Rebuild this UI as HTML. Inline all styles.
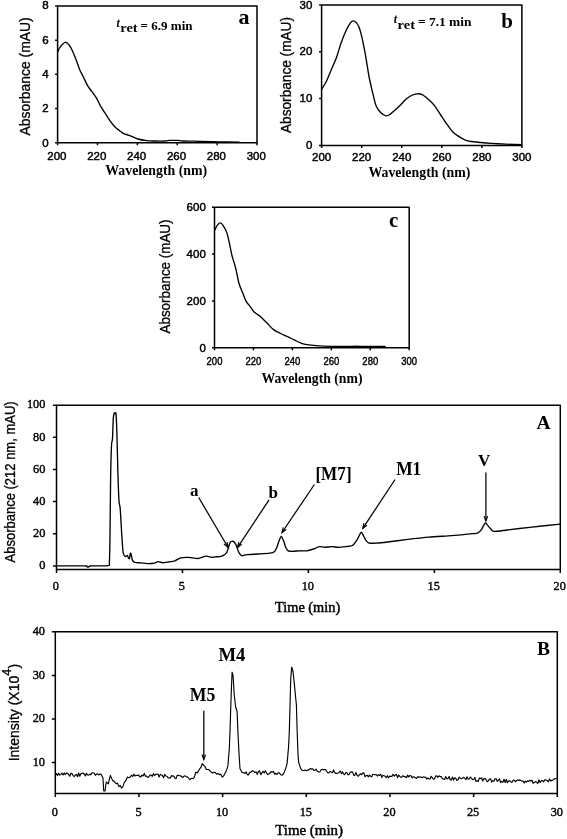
<!DOCTYPE html>
<html><head><meta charset="utf-8"><title>Figure</title>
<style>html,body{margin:0;padding:0;background:#fff;}svg{display:block;}</style>
</head><body>
<svg width="567" height="839" viewBox="0 0 567 839">
<rect width="567" height="839" fill="#fff"/>
<path d="M57.6,6.0 H257.0 V142.7 H57.6 Z" fill="none" stroke="#000" stroke-width="1.5" stroke-linejoin="round"/>
<path d="M55.10,142.70 H57.60 M55.10,108.52 H57.60 M55.10,74.35 H57.60 M55.10,40.17 H57.60 M55.10,6.00 H57.60" stroke="#000" stroke-width="1.5" fill="none"/>
<path d="M57.60,142.70 V145.20 M97.48,142.70 V145.20 M137.36,142.70 V145.20 M177.24,142.70 V145.20 M217.12,142.70 V145.20 M257.00,142.70 V145.20" stroke="#000" stroke-width="1.5" fill="none"/>
<text x="48.60" y="146.50" font-family="'Liberation Sans', Arial, sans-serif" font-size="11.5" font-weight="normal" font-style="normal" text-anchor="end" stroke="#000" stroke-width="0.45">0</text>
<text x="48.60" y="112.32" font-family="'Liberation Sans', Arial, sans-serif" font-size="11.5" font-weight="normal" font-style="normal" text-anchor="end" stroke="#000" stroke-width="0.45">2</text>
<text x="48.60" y="78.15" font-family="'Liberation Sans', Arial, sans-serif" font-size="11.5" font-weight="normal" font-style="normal" text-anchor="end" stroke="#000" stroke-width="0.45">4</text>
<text x="48.60" y="43.97" font-family="'Liberation Sans', Arial, sans-serif" font-size="11.5" font-weight="normal" font-style="normal" text-anchor="end" stroke="#000" stroke-width="0.45">6</text>
<text x="48.60" y="8.60" font-family="'Liberation Sans', Arial, sans-serif" font-size="11.5" font-weight="normal" font-style="normal" text-anchor="end" stroke="#000" stroke-width="0.45">8</text>
<text x="56.90" y="159.50" font-family="'Liberation Sans', Arial, sans-serif" font-size="11.5" font-weight="normal" font-style="normal" text-anchor="middle" stroke="#000" stroke-width="0.45">200</text>
<text x="96.78" y="159.50" font-family="'Liberation Sans', Arial, sans-serif" font-size="11.5" font-weight="normal" font-style="normal" text-anchor="middle" stroke="#000" stroke-width="0.45">220</text>
<text x="136.66" y="159.50" font-family="'Liberation Sans', Arial, sans-serif" font-size="11.5" font-weight="normal" font-style="normal" text-anchor="middle" stroke="#000" stroke-width="0.45">240</text>
<text x="176.54" y="159.50" font-family="'Liberation Sans', Arial, sans-serif" font-size="11.5" font-weight="normal" font-style="normal" text-anchor="middle" stroke="#000" stroke-width="0.45">260</text>
<text x="216.42" y="159.50" font-family="'Liberation Sans', Arial, sans-serif" font-size="11.5" font-weight="normal" font-style="normal" text-anchor="middle" stroke="#000" stroke-width="0.45">280</text>
<text x="256.30" y="159.50" font-family="'Liberation Sans', Arial, sans-serif" font-size="11.5" font-weight="normal" font-style="normal" text-anchor="middle" stroke="#000" stroke-width="0.45">300</text>
<text transform="translate(30.20,76.40) rotate(-90)" x="0" y="0" font-family="'Liberation Sans', Arial, sans-serif" font-size="14" font-weight="normal" text-anchor="middle" textLength="118" lengthAdjust="spacingAndGlyphs" stroke="#000" stroke-width="0.3">Absorbance (mAU)</text>
<text x="156.20" y="175.10" font-family="'Liberation Serif', 'Times New Roman', serif" font-size="15.5" font-weight="bold" font-style="normal" text-anchor="middle" textLength="102" lengthAdjust="spacingAndGlyphs">Wavelength (nm)</text>
<text x="238.50" y="24.00" font-family="'Liberation Serif', 'Times New Roman', serif" font-size="22" font-weight="bold" font-style="normal" text-anchor="start">a</text>
<text x="116.50" y="26.60" font-family="'Liberation Serif', 'Times New Roman', serif" font-size="12" font-weight="bold" font-style="italic" text-anchor="start">t</text>
<text x="120.30" y="31.50" font-family="'Liberation Serif', 'Times New Roman', serif" font-size="13.5" font-weight="bold" font-style="normal" text-anchor="start" textLength="17.4" lengthAdjust="spacingAndGlyphs">ret</text>
<text x="140.60" y="29.60" font-family="'Liberation Serif', 'Times New Roman', serif" font-size="12.8" font-weight="bold" font-style="normal" text-anchor="start" textLength="52" lengthAdjust="spacingAndGlyphs">= 6.9 min</text>
<path d="M57.60,52.00 C58.05,51.13 59.03,48.42 60.30,46.80 C61.57,45.18 63.73,42.60 65.20,42.30 C66.67,42.00 67.87,43.52 69.10,45.00 C70.33,46.48 71.42,48.70 72.60,51.20 C73.78,53.70 75.02,56.92 76.20,60.00 C77.38,63.08 78.53,66.92 79.70,69.70 C80.87,72.48 81.88,74.05 83.20,76.70 C84.52,79.35 86.13,83.10 87.60,85.60 C89.07,88.10 90.53,89.65 92.00,91.70 C93.47,93.75 94.92,95.40 96.40,97.90 C97.88,100.40 99.28,103.90 100.90,106.70 C102.52,109.50 104.48,112.20 106.10,114.70 C107.72,117.20 109.12,119.65 110.60,121.70 C112.08,123.75 113.53,125.53 115.00,127.00 C116.47,128.47 117.93,129.38 119.40,130.50 C120.87,131.62 122.18,132.90 123.80,133.70 C125.42,134.50 126.75,134.42 129.10,135.30 C131.45,136.18 134.97,138.12 137.90,139.00 C140.83,139.88 143.85,140.27 146.70,140.60 C149.55,140.93 151.95,140.93 155.00,141.00 C158.05,141.07 162.50,141.10 165.00,141.00 C167.50,140.90 167.83,140.50 170.00,140.40 C172.17,140.30 175.83,140.30 178.00,140.40 C180.17,140.50 179.33,140.85 183.00,141.00 C186.67,141.15 193.83,141.17 200.00,141.30 C206.17,141.43 213.42,141.65 220.00,141.80 C226.58,141.95 236.25,142.13 239.50,142.20" fill="none" stroke="#000" stroke-width="1.35" stroke-linejoin="round"/>
<path d="M321.6,5.0 H521.9 V145.4 H321.6 Z" fill="none" stroke="#000" stroke-width="1.5" stroke-linejoin="round"/>
<path d="M319.10,145.40 H321.60 M319.10,98.60 H321.60 M319.10,51.80 H321.60 M319.10,5.00 H321.60" stroke="#000" stroke-width="1.5" fill="none"/>
<path d="M321.60,145.40 V147.90 M361.66,145.40 V147.90 M401.72,145.40 V147.90 M441.78,145.40 V147.90 M481.84,145.40 V147.90 M521.90,145.40 V147.90" stroke="#000" stroke-width="1.5" fill="none"/>
<text x="312.40" y="149.00" font-family="'Liberation Sans', Arial, sans-serif" font-size="11.5" font-weight="normal" font-style="normal" text-anchor="end" stroke="#000" stroke-width="0.45">0</text>
<text x="312.40" y="102.20" font-family="'Liberation Sans', Arial, sans-serif" font-size="11.5" font-weight="normal" font-style="normal" text-anchor="end" stroke="#000" stroke-width="0.45">10</text>
<text x="312.40" y="55.40" font-family="'Liberation Sans', Arial, sans-serif" font-size="11.5" font-weight="normal" font-style="normal" text-anchor="end" stroke="#000" stroke-width="0.45">20</text>
<text x="312.40" y="8.60" font-family="'Liberation Sans', Arial, sans-serif" font-size="11.5" font-weight="normal" font-style="normal" text-anchor="end" stroke="#000" stroke-width="0.45">30</text>
<text x="321.60" y="160.70" font-family="'Liberation Sans', Arial, sans-serif" font-size="11.5" font-weight="normal" font-style="normal" text-anchor="middle" stroke="#000" stroke-width="0.45">200</text>
<text x="361.66" y="160.70" font-family="'Liberation Sans', Arial, sans-serif" font-size="11.5" font-weight="normal" font-style="normal" text-anchor="middle" stroke="#000" stroke-width="0.45">220</text>
<text x="401.72" y="160.70" font-family="'Liberation Sans', Arial, sans-serif" font-size="11.5" font-weight="normal" font-style="normal" text-anchor="middle" stroke="#000" stroke-width="0.45">240</text>
<text x="441.78" y="160.70" font-family="'Liberation Sans', Arial, sans-serif" font-size="11.5" font-weight="normal" font-style="normal" text-anchor="middle" stroke="#000" stroke-width="0.45">260</text>
<text x="481.84" y="160.70" font-family="'Liberation Sans', Arial, sans-serif" font-size="11.5" font-weight="normal" font-style="normal" text-anchor="middle" stroke="#000" stroke-width="0.45">280</text>
<text x="521.90" y="160.70" font-family="'Liberation Sans', Arial, sans-serif" font-size="11.5" font-weight="normal" font-style="normal" text-anchor="middle" stroke="#000" stroke-width="0.45">300</text>
<text transform="translate(290.70,75.00) rotate(-90)" x="0" y="0" font-family="'Liberation Sans', Arial, sans-serif" font-size="14" font-weight="normal" text-anchor="middle" textLength="116" lengthAdjust="spacingAndGlyphs" stroke="#000" stroke-width="0.3">Absorbance (mAU)</text>
<text x="419.40" y="176.90" font-family="'Liberation Serif', 'Times New Roman', serif" font-size="15.5" font-weight="bold" font-style="normal" text-anchor="middle" textLength="102" lengthAdjust="spacingAndGlyphs">Wavelength (nm)</text>
<text x="501.20" y="28.20" font-family="'Liberation Serif', 'Times New Roman', serif" font-size="21" font-weight="bold" font-style="normal" text-anchor="start">b</text>
<text x="393.80" y="23.40" font-family="'Liberation Serif', 'Times New Roman', serif" font-size="12" font-weight="bold" font-style="italic" text-anchor="start">t</text>
<text x="397.60" y="29.20" font-family="'Liberation Serif', 'Times New Roman', serif" font-size="13.5" font-weight="bold" font-style="normal" text-anchor="start" textLength="17.4" lengthAdjust="spacingAndGlyphs">ret</text>
<text x="417.90" y="25.60" font-family="'Liberation Serif', 'Times New Roman', serif" font-size="12.8" font-weight="bold" font-style="normal" text-anchor="start" textLength="53.6" lengthAdjust="spacingAndGlyphs">= 7.1 min</text>
<path d="M321.50,89.40 C322.23,88.22 324.28,85.53 325.90,82.30 C327.52,79.07 329.43,74.12 331.20,70.00 C332.97,65.88 334.88,62.02 336.50,57.60 C338.12,53.18 339.28,48.05 340.90,43.50 C342.52,38.95 344.58,33.77 346.20,30.30 C347.82,26.83 349.42,24.27 350.60,22.70 C351.78,21.13 352.42,20.97 353.30,20.90 C354.18,20.83 354.97,21.32 355.90,22.30 C356.83,23.28 357.87,24.15 358.90,26.80 C359.93,29.45 360.98,33.35 362.10,38.20 C363.22,43.05 364.43,49.43 365.60,55.90 C366.77,62.37 367.92,70.83 369.10,77.00 C370.28,83.17 371.52,88.05 372.70,92.90 C373.88,97.75 374.88,102.82 376.20,106.10 C377.52,109.38 378.98,110.98 380.60,112.60 C382.22,114.22 384.28,115.55 385.90,115.80 C387.52,116.05 388.68,115.13 390.30,114.10 C391.92,113.07 393.83,111.22 395.60,109.60 C397.37,107.98 399.13,106.15 400.90,104.40 C402.67,102.65 404.43,100.58 406.20,99.10 C407.97,97.62 409.68,96.38 411.50,95.50 C413.32,94.62 415.32,93.95 417.10,93.80 C418.88,93.65 420.33,93.68 422.20,94.60 C424.07,95.52 426.28,97.50 428.30,99.30 C430.32,101.10 432.28,102.87 434.30,105.40 C436.32,107.93 438.37,111.47 440.40,114.50 C442.43,117.53 444.47,120.73 446.50,123.60 C448.53,126.47 450.57,129.57 452.60,131.70 C454.63,133.83 456.67,135.05 458.70,136.40 C460.73,137.75 462.77,138.95 464.80,139.80 C466.83,140.65 468.20,141.05 470.90,141.50 C473.60,141.95 477.63,142.20 481.00,142.50 C484.37,142.80 487.05,143.03 491.10,143.30 C495.15,143.57 501.23,143.90 505.30,144.10 C509.37,144.30 512.80,144.40 515.50,144.50 C518.20,144.60 520.50,144.67 521.50,144.70" fill="none" stroke="#000" stroke-width="1.35" stroke-linejoin="round"/>
<path d="M214.5,207.3 H409.2 V347.7 H214.5 Z" fill="none" stroke="#000" stroke-width="1.5" stroke-linejoin="round"/>
<path d="M212.00,347.70 H214.50 M212.00,300.90 H214.50 M212.00,254.10 H214.50 M212.00,207.30 H214.50" stroke="#000" stroke-width="1.5" fill="none"/>
<path d="M214.50,347.70 V350.20 M253.44,347.70 V350.20 M292.38,347.70 V350.20 M331.32,347.70 V350.20 M370.26,347.70 V350.20 M409.20,347.70 V350.20" stroke="#000" stroke-width="1.5" fill="none"/>
<text x="205.80" y="351.50" font-family="'Liberation Sans', Arial, sans-serif" font-size="11.5" font-weight="normal" font-style="normal" text-anchor="end" stroke="#000" stroke-width="0.45">0</text>
<text x="205.80" y="304.70" font-family="'Liberation Sans', Arial, sans-serif" font-size="11.5" font-weight="normal" font-style="normal" text-anchor="end" stroke="#000" stroke-width="0.45">200</text>
<text x="205.80" y="257.90" font-family="'Liberation Sans', Arial, sans-serif" font-size="11.5" font-weight="normal" font-style="normal" text-anchor="end" stroke="#000" stroke-width="0.45">400</text>
<text x="205.80" y="211.10" font-family="'Liberation Sans', Arial, sans-serif" font-size="11.5" font-weight="normal" font-style="normal" text-anchor="end" stroke="#000" stroke-width="0.45">600</text>
<text x="214.50" y="364.90" font-family="'Liberation Sans', Arial, sans-serif" font-size="11.5" font-weight="normal" font-style="normal" text-anchor="middle" textLength="15.8" lengthAdjust="spacingAndGlyphs" stroke="#000" stroke-width="0.45">200</text>
<text x="253.44" y="364.90" font-family="'Liberation Sans', Arial, sans-serif" font-size="11.5" font-weight="normal" font-style="normal" text-anchor="middle" textLength="15.8" lengthAdjust="spacingAndGlyphs" stroke="#000" stroke-width="0.45">220</text>
<text x="292.38" y="364.90" font-family="'Liberation Sans', Arial, sans-serif" font-size="11.5" font-weight="normal" font-style="normal" text-anchor="middle" textLength="15.8" lengthAdjust="spacingAndGlyphs" stroke="#000" stroke-width="0.45">240</text>
<text x="331.32" y="364.90" font-family="'Liberation Sans', Arial, sans-serif" font-size="11.5" font-weight="normal" font-style="normal" text-anchor="middle" textLength="15.8" lengthAdjust="spacingAndGlyphs" stroke="#000" stroke-width="0.45">260</text>
<text x="370.26" y="364.90" font-family="'Liberation Sans', Arial, sans-serif" font-size="11.5" font-weight="normal" font-style="normal" text-anchor="middle" textLength="15.8" lengthAdjust="spacingAndGlyphs" stroke="#000" stroke-width="0.45">280</text>
<text x="409.20" y="364.90" font-family="'Liberation Sans', Arial, sans-serif" font-size="11.5" font-weight="normal" font-style="normal" text-anchor="middle" textLength="15.8" lengthAdjust="spacingAndGlyphs" stroke="#000" stroke-width="0.45">300</text>
<text transform="translate(170.00,276.50) rotate(-90)" x="0" y="0" font-family="'Liberation Sans', Arial, sans-serif" font-size="14" font-weight="normal" text-anchor="middle" textLength="114" lengthAdjust="spacingAndGlyphs" stroke="#000" stroke-width="0.3">Absorbance (mAU)</text>
<text x="312.00" y="382.90" font-family="'Liberation Serif', 'Times New Roman', serif" font-size="15.5" font-weight="bold" font-style="normal" text-anchor="middle" textLength="101" lengthAdjust="spacingAndGlyphs">Wavelength (nm)</text>
<text x="389.00" y="227.00" font-family="'Liberation Serif', 'Times New Roman', serif" font-size="21" font-weight="bold" font-style="normal" text-anchor="start">c</text>
<path d="M214.40,230.90 C214.85,230.02 216.13,226.93 217.10,225.60 C218.07,224.27 219.18,222.90 220.20,222.90 C221.22,222.90 222.10,223.98 223.20,225.60 C224.30,227.22 225.77,229.67 226.80,232.60 C227.83,235.53 228.53,239.37 229.40,243.20 C230.27,247.03 230.97,251.48 232.00,255.60 C233.03,259.72 234.42,263.20 235.60,267.90 C236.78,272.60 237.93,279.68 239.10,283.80 C240.27,287.92 241.42,289.67 242.60,292.60 C243.78,295.53 245.02,299.20 246.20,301.40 C247.38,303.60 248.38,304.03 249.70,305.80 C251.02,307.57 252.33,310.23 254.10,312.00 C255.87,313.77 258.53,314.93 260.30,316.40 C262.07,317.87 263.38,319.48 264.70,320.80 C266.02,322.12 266.73,322.83 268.20,324.30 C269.67,325.77 271.45,328.07 273.50,329.60 C275.55,331.13 278.15,332.32 280.50,333.50 C282.85,334.68 285.23,335.58 287.60,336.70 C289.97,337.82 292.35,339.08 294.70,340.20 C297.05,341.32 299.65,342.67 301.70,343.40 C303.75,344.13 303.95,344.20 307.00,344.60 C310.05,345.00 314.50,345.52 320.00,345.80 C325.50,346.08 333.33,346.22 340.00,346.30 C346.67,346.38 352.38,346.27 360.00,346.30 C367.62,346.33 381.42,346.47 385.70,346.50" fill="none" stroke="#000" stroke-width="1.35" stroke-linejoin="round"/>
<path d="M56.5,405.2 H560.3 V569.4 H56.5 Z" fill="none" stroke="#000" stroke-width="1.5" stroke-linejoin="round"/>
<path d="M53.00,565.90 H56.50 M53.00,533.76 H56.50 M53.00,501.62 H56.50 M53.00,469.48 H56.50 M53.00,437.34 H56.50 M53.00,405.20 H56.50" stroke="#000" stroke-width="1.5" fill="none"/>
<path d="M56.50,569.40 V572.90 M182.45,569.40 V572.90 M308.40,569.40 V572.90 M434.35,569.40 V572.90 M560.30,569.40 V572.90" stroke="#000" stroke-width="1.5" fill="none"/>
<text x="45.40" y="569.10" font-family="'Liberation Serif', 'Times New Roman', serif" font-size="12.3" font-weight="normal" font-style="normal" text-anchor="end" stroke="#000" stroke-width="0.4">0</text>
<text x="45.40" y="536.96" font-family="'Liberation Serif', 'Times New Roman', serif" font-size="12.3" font-weight="normal" font-style="normal" text-anchor="end" stroke="#000" stroke-width="0.4">20</text>
<text x="45.40" y="504.82" font-family="'Liberation Serif', 'Times New Roman', serif" font-size="12.3" font-weight="normal" font-style="normal" text-anchor="end" stroke="#000" stroke-width="0.4">40</text>
<text x="45.40" y="472.68" font-family="'Liberation Serif', 'Times New Roman', serif" font-size="12.3" font-weight="normal" font-style="normal" text-anchor="end" stroke="#000" stroke-width="0.4">60</text>
<text x="45.40" y="440.54" font-family="'Liberation Serif', 'Times New Roman', serif" font-size="12.3" font-weight="normal" font-style="normal" text-anchor="end" stroke="#000" stroke-width="0.4">80</text>
<text x="45.40" y="408.40" font-family="'Liberation Serif', 'Times New Roman', serif" font-size="12.3" font-weight="normal" font-style="normal" text-anchor="end" stroke="#000" stroke-width="0.4">100</text>
<text x="55.90" y="589.80" font-family="'Liberation Serif', 'Times New Roman', serif" font-size="12.3" font-weight="normal" font-style="normal" text-anchor="middle" stroke="#000" stroke-width="0.4">0</text>
<text x="181.85" y="589.80" font-family="'Liberation Serif', 'Times New Roman', serif" font-size="12.3" font-weight="normal" font-style="normal" text-anchor="middle" stroke="#000" stroke-width="0.4">5</text>
<text x="307.80" y="589.80" font-family="'Liberation Serif', 'Times New Roman', serif" font-size="12.3" font-weight="normal" font-style="normal" text-anchor="middle" stroke="#000" stroke-width="0.4">10</text>
<text x="433.75" y="589.80" font-family="'Liberation Serif', 'Times New Roman', serif" font-size="12.3" font-weight="normal" font-style="normal" text-anchor="middle" stroke="#000" stroke-width="0.4">15</text>
<text x="559.70" y="589.80" font-family="'Liberation Serif', 'Times New Roman', serif" font-size="12.3" font-weight="normal" font-style="normal" text-anchor="middle" stroke="#000" stroke-width="0.4">20</text>
<text transform="translate(15.40,481.90) rotate(-90)" x="0" y="0" font-family="'Liberation Sans', Arial, sans-serif" font-size="14" font-weight="normal" text-anchor="middle" textLength="161" lengthAdjust="spacingAndGlyphs" stroke="#000" stroke-width="0.3">Absorbance (212 nm, mAU)</text>
<text x="307.60" y="611.50" font-family="'Liberation Serif', 'Times New Roman', serif" font-size="15.5" font-weight="normal" font-style="normal" text-anchor="middle" textLength="65.2" lengthAdjust="spacingAndGlyphs" stroke="#000" stroke-width="0.5">Time (min)</text>
<text x="536.40" y="428.80" font-family="'Liberation Serif', 'Times New Roman', serif" font-size="19.5" font-weight="bold" font-style="normal" text-anchor="start">A</text>
<text x="190.00" y="495.50" font-family="'Liberation Serif', 'Times New Roman', serif" font-size="17" font-weight="bold" font-style="normal" text-anchor="start">a</text>
<text x="268.40" y="497.80" font-family="'Liberation Serif', 'Times New Roman', serif" font-size="17" font-weight="bold" font-style="normal" text-anchor="start">b</text>
<text x="315.40" y="479.60" font-family="'Liberation Serif', 'Times New Roman', serif" font-size="17.8" font-weight="bold" font-style="normal" text-anchor="start" textLength="36.3" lengthAdjust="spacingAndGlyphs">[M7]</text>
<text x="396.20" y="475.20" font-family="'Liberation Serif', 'Times New Roman', serif" font-size="17.8" font-weight="bold" font-style="normal" text-anchor="start" textLength="25.1" lengthAdjust="spacingAndGlyphs">M1</text>
<text x="478.00" y="465.80" font-family="'Liberation Serif', 'Times New Roman', serif" font-size="17" font-weight="bold" font-style="normal" text-anchor="start">V</text>
<path d="M198.70,497.50 L228.00,547.30" stroke="#000" stroke-width="1.25" fill="none"/>
<path d="M223.99,543.99 L228.00,547.30 L227.06,542.19" stroke="#000" stroke-width="1.2" fill="none" stroke-linejoin="miter"/>
<path d="M269.10,499.80 L237.60,547.30" stroke="#000" stroke-width="1.25" fill="none"/>
<path d="M238.82,542.24 L237.60,547.30 L241.78,544.21" stroke="#000" stroke-width="1.2" fill="none" stroke-linejoin="miter"/>
<path d="M314.40,484.50 L282.00,532.50" stroke="#000" stroke-width="1.25" fill="none"/>
<path d="M283.26,527.45 L282.00,532.50 L286.21,529.44" stroke="#000" stroke-width="1.2" fill="none" stroke-linejoin="miter"/>
<path d="M395.10,479.50 L362.80,528.30" stroke="#000" stroke-width="1.25" fill="none"/>
<path d="M364.01,523.24 L362.80,528.30 L366.98,525.21" stroke="#000" stroke-width="1.2" fill="none" stroke-linejoin="miter"/>
<path d="M485.90,472.50 L485.90,521.00" stroke="#000" stroke-width="1.25" fill="none"/>
<path d="M484.12,516.11 L485.90,521.00 L487.68,516.11" stroke="#000" stroke-width="1.2" fill="none" stroke-linejoin="miter"/>
<path d="M56.50,565.90 C59.83,565.90 81.50,565.85 85.00,565.90 C88.50,565.95 86.15,566.17 86.50,566.30 C86.85,566.43 87.65,567.00 88.00,567.00 C88.35,567.00 89.15,566.43 89.50,566.30 C89.85,566.17 88.81,565.97 91.00,565.90 C93.19,565.83 106.15,566.16 108.30,565.70 C110.45,565.25 109.20,565.53 109.40,562.00 C109.60,558.47 109.86,545.06 110.00,535.40 C110.14,525.74 110.42,489.69 110.60,479.20 C110.77,468.71 111.28,450.25 111.50,445.50 C111.72,440.75 112.29,441.71 112.50,438.50 C112.71,435.29 113.09,420.98 113.30,418.00 C113.51,415.02 114.11,413.51 114.30,413.00 C114.49,412.49 114.76,413.65 114.90,413.60 C115.04,413.55 115.36,412.50 115.50,412.60 C115.64,412.71 115.94,412.08 116.10,414.50 C116.26,416.92 116.69,426.48 116.90,433.30 C117.11,440.12 117.66,465.10 117.90,473.00 C118.15,480.90 118.73,496.86 119.00,501.00 C119.27,505.14 119.89,504.70 120.20,508.50 C120.52,512.30 121.36,528.48 121.70,533.60 C122.04,538.72 122.69,549.72 123.10,552.40 C123.51,555.08 124.71,556.24 125.20,556.60 C125.69,556.96 126.93,555.36 127.30,555.50 C127.67,555.64 128.16,557.44 128.40,557.80 C128.65,558.16 129.18,559.10 129.40,558.60 C129.62,558.10 130.11,554.06 130.30,553.50 C130.49,552.94 130.74,553.00 131.00,553.80 C131.26,554.60 132.04,559.40 132.50,560.40 C132.96,561.40 133.96,562.11 134.90,562.40 C135.84,562.69 139.13,562.76 140.60,562.90 C142.07,563.04 145.89,563.58 147.50,563.60 C149.11,563.62 153.20,563.32 154.40,563.10 C155.60,562.88 156.87,561.75 157.80,561.70 C158.73,561.65 161.19,562.67 162.40,562.70 C163.61,562.74 166.73,562.22 168.20,562.00 C169.67,561.78 173.53,561.29 175.00,560.80 C176.47,560.31 179.19,558.20 180.80,557.80 C182.41,557.40 186.79,557.32 188.80,557.40 C190.81,557.48 195.99,558.64 198.00,558.50 C200.01,558.36 204.40,556.33 206.00,556.20 C207.60,556.07 210.65,557.33 211.70,557.40 C212.75,557.47 214.04,556.88 215.00,556.80 C215.96,556.72 218.91,556.86 219.90,556.70 C220.89,556.54 222.72,555.88 223.50,555.40 C224.28,554.92 226.07,553.35 226.60,552.60 C227.12,551.85 227.71,549.83 228.00,549.00 C228.29,548.17 228.84,546.28 229.10,545.50 C229.36,544.72 229.87,542.79 230.20,542.30 C230.53,541.81 231.49,541.38 231.90,541.30 C232.31,541.22 233.28,541.31 233.70,541.60 C234.12,541.89 235.13,543.18 235.50,543.80 C235.87,544.42 236.57,546.04 236.90,546.90 C237.23,547.76 237.89,550.29 238.30,551.20 C238.71,552.11 239.99,554.18 240.40,554.70 C240.81,555.23 241.04,555.70 241.80,555.70 C242.56,555.70 244.97,554.90 246.90,554.70 C248.83,554.50 255.63,554.19 258.30,554.00 C260.97,553.81 267.92,553.37 269.80,553.10 C271.68,552.83 273.59,552.32 274.40,551.70 C275.20,551.08 276.16,549.05 276.70,547.80 C277.24,546.55 278.46,542.33 279.00,541.00 C279.54,539.67 280.76,536.40 281.30,536.40 C281.84,536.40 283.06,539.67 283.60,541.00 C284.14,542.33 285.36,546.66 285.90,547.80 C286.44,548.94 287.39,550.39 288.20,550.80 C289.00,551.21 291.47,551.30 292.80,551.30 C294.13,551.30 298.00,550.86 299.60,550.80 C301.20,550.74 304.89,551.01 306.50,550.80 C308.11,550.59 311.93,549.48 313.40,549.00 C314.87,548.52 317.76,546.91 319.10,546.70 C320.44,546.49 323.43,547.20 324.90,547.20 C326.37,547.20 330.10,546.68 331.70,546.70 C333.30,546.72 336.99,547.40 338.60,547.40 C340.21,547.40 343.89,546.92 345.50,546.70 C347.11,546.48 351.06,546.31 352.40,545.50 C353.74,544.69 355.99,541.33 357.00,539.80 C358.01,538.27 360.35,532.89 361.10,532.40 C361.85,531.91 362.86,534.70 363.40,535.60 C363.94,536.50 365.02,539.23 365.70,540.10 C366.38,540.98 367.99,542.75 369.20,543.10 C370.41,543.45 373.97,543.23 376.10,543.10 C378.24,542.97 384.02,542.40 387.50,542.00 C390.98,541.60 401.08,540.26 405.90,539.70 C410.72,539.14 423.46,537.68 428.80,537.20 C434.14,536.72 446.88,535.99 451.70,535.60 C456.52,535.22 467.02,534.23 470.10,533.90 C473.18,533.57 476.76,533.32 478.10,532.80 C479.44,532.27 480.92,530.33 481.60,529.40 C482.28,528.47 483.41,525.55 483.90,524.80 C484.39,524.05 485.38,522.95 485.80,523.00 C486.22,523.05 486.96,524.56 487.50,525.20 C488.04,525.84 489.66,527.78 490.40,528.50 C491.13,529.22 491.84,531.23 493.80,531.40 C495.76,531.57 503.02,530.48 507.20,530.00 C511.38,529.52 523.40,527.98 529.60,527.30 C535.80,526.62 556.72,524.56 560.30,524.20" fill="none" stroke="#000" stroke-width="1.35" stroke-linejoin="round"/>
<path d="M55.3,631.8 H557.3 V793.6 H55.3 Z" fill="none" stroke="#000" stroke-width="1.5" stroke-linejoin="round"/>
<path d="M51.80,762.60 H55.30 M51.80,719.00 H55.30 M51.80,675.40 H55.30 M51.80,631.80 H55.30" stroke="#000" stroke-width="1.5" fill="none"/>
<path d="M55.30,793.60 V797.10 M138.97,793.60 V797.10 M222.63,793.60 V797.10 M306.30,793.60 V797.10 M389.97,793.60 V797.10 M473.63,793.60 V797.10 M557.30,793.60 V797.10" stroke="#000" stroke-width="1.5" fill="none"/>
<text x="45.00" y="765.80" font-family="'Liberation Serif', 'Times New Roman', serif" font-size="12.3" font-weight="normal" font-style="normal" text-anchor="end" stroke="#000" stroke-width="0.4">10</text>
<text x="45.00" y="722.20" font-family="'Liberation Serif', 'Times New Roman', serif" font-size="12.3" font-weight="normal" font-style="normal" text-anchor="end" stroke="#000" stroke-width="0.4">20</text>
<text x="45.00" y="678.60" font-family="'Liberation Serif', 'Times New Roman', serif" font-size="12.3" font-weight="normal" font-style="normal" text-anchor="end" stroke="#000" stroke-width="0.4">30</text>
<text x="45.00" y="635.00" font-family="'Liberation Serif', 'Times New Roman', serif" font-size="12.3" font-weight="normal" font-style="normal" text-anchor="end" stroke="#000" stroke-width="0.4">40</text>
<text x="54.80" y="815.80" font-family="'Liberation Serif', 'Times New Roman', serif" font-size="12.3" font-weight="normal" font-style="normal" text-anchor="middle" stroke="#000" stroke-width="0.4">0</text>
<text x="138.47" y="815.80" font-family="'Liberation Serif', 'Times New Roman', serif" font-size="12.3" font-weight="normal" font-style="normal" text-anchor="middle" stroke="#000" stroke-width="0.4">5</text>
<text x="222.13" y="815.80" font-family="'Liberation Serif', 'Times New Roman', serif" font-size="12.3" font-weight="normal" font-style="normal" text-anchor="middle" stroke="#000" stroke-width="0.4">10</text>
<text x="305.80" y="815.80" font-family="'Liberation Serif', 'Times New Roman', serif" font-size="12.3" font-weight="normal" font-style="normal" text-anchor="middle" stroke="#000" stroke-width="0.4">15</text>
<text x="389.47" y="815.80" font-family="'Liberation Serif', 'Times New Roman', serif" font-size="12.3" font-weight="normal" font-style="normal" text-anchor="middle" stroke="#000" stroke-width="0.4">20</text>
<text x="473.13" y="815.80" font-family="'Liberation Serif', 'Times New Roman', serif" font-size="12.3" font-weight="normal" font-style="normal" text-anchor="middle" stroke="#000" stroke-width="0.4">25</text>
<text x="556.80" y="815.80" font-family="'Liberation Serif', 'Times New Roman', serif" font-size="12.3" font-weight="normal" font-style="normal" text-anchor="middle" stroke="#000" stroke-width="0.4">30</text>
<text transform="translate(18.6,712.6) rotate(-90)" x="0" y="0" font-family="'Liberation Sans', Arial, sans-serif" font-size="14" stroke="#000" stroke-width="0.3" text-anchor="middle">Intensity (X10<tspan dy="-7.5" font-size="13">4</tspan><tspan dy="7.5">)</tspan></text>
<text x="309.10" y="834.80" font-family="'Liberation Serif', 'Times New Roman', serif" font-size="15.5" font-weight="normal" font-style="normal" text-anchor="middle" textLength="67.8" lengthAdjust="spacingAndGlyphs" stroke="#000" stroke-width="0.5">Time (min)</text>
<text x="537.00" y="655.40" font-family="'Liberation Serif', 'Times New Roman', serif" font-size="19.5" font-weight="bold" font-style="normal" text-anchor="start">B</text>
<text x="218.40" y="661.40" font-family="'Liberation Serif', 'Times New Roman', serif" font-size="18" font-weight="bold" font-style="normal" text-anchor="start" textLength="27" lengthAdjust="spacingAndGlyphs">M4</text>
<text x="189.80" y="701.00" font-family="'Liberation Serif', 'Times New Roman', serif" font-size="18" font-weight="bold" font-style="normal" text-anchor="start" textLength="25.6" lengthAdjust="spacingAndGlyphs">M5</text>
<path d="M203.80,710.80 L203.80,759.50" stroke="#000" stroke-width="1.25" fill="none"/>
<path d="M202.02,754.61 L203.80,759.50 L205.58,754.61" stroke="#000" stroke-width="1.2" fill="none" stroke-linejoin="miter"/>
<path d="M55.30,774.58 L56.41,773.52 L57.52,775.61 L58.64,773.17 L59.75,775.10 L60.86,774.37 L61.97,773.07 L63.09,774.95 L64.20,772.96 L65.31,774.61 L66.42,773.07 L67.53,773.15 L68.65,774.54 L69.76,776.21 L70.87,773.25 L71.98,773.65 L73.10,775.34 L74.21,776.67 L75.32,775.10 L76.43,774.33 L77.54,776.76 L78.66,772.84 L79.77,776.24 L80.88,773.84 L81.99,773.21 L83.10,773.09 L84.22,773.88 L85.33,776.00 L86.44,773.32 L87.55,774.99 L88.67,775.22 L89.78,774.09 L90.89,774.81 L92.00,772.76 L93.11,772.74 L94.23,773.34 L95.34,775.32 L96.45,774.24 L97.56,773.76 L98.68,774.88 L99.79,774.32 L100.90,774.02 L103.00,778.10 L103.70,790.80 L105.10,790.80 L106.20,782.01 L108.30,783.88 L110.40,775.39 L112.50,780.38 L113.60,780.86 L114.70,782.20 L116.10,783.66 L117.50,783.21 L118.90,786.65 L120.15,785.30 L121.40,788.10 L122.80,786.93 L124.20,782.56 L125.80,780.70 L127.40,776.99 L128.80,777.74 L130.20,777.08 L131.60,775.08 L132.75,776.51 L133.90,774.19 L135.05,775.83 L136.20,775.45 L137.35,775.42 L138.50,774.94 L139.65,776.59 L140.80,777.07 L141.95,775.13 L143.10,775.96 L144.25,773.47 L145.40,776.20 L146.55,776.01 L147.70,777.50 L148.85,776.81 L150.00,774.98 L151.14,775.07 L152.27,776.31 L153.41,773.65 L154.54,775.55 L155.68,774.36 L156.81,774.20 L157.95,774.01 L159.08,777.04 L160.22,774.41 L161.35,774.96 L162.49,775.61 L163.63,777.68 L164.76,774.41 L165.90,776.01 L167.03,776.48 L168.17,777.94 L169.30,777.72 L170.44,777.96 L171.57,775.55 L172.71,776.18 L173.85,775.99 L174.98,778.25 L176.12,778.61 L177.25,775.27 L178.39,775.43 L179.52,775.72 L180.66,775.77 L181.79,776.88 L182.93,777.37 L184.06,776.05 L185.20,775.91 L186.33,776.95 L187.46,776.92 L188.59,777.94 L189.71,779.75 L190.84,778.83 L191.97,778.28 L193.10,778.68 L194.43,776.97 L195.77,772.19 L197.10,772.86 L198.40,771.08 L199.70,768.80 L201.00,767.20 L202.30,763.74 L203.60,765.23 L204.90,766.35 L206.25,769.51 L207.60,769.55 L208.90,769.65 L210.20,771.11 L211.50,772.39 L212.80,773.00 L214.10,772.27 L215.40,772.53 L216.70,774.26 L218.03,773.49 L219.37,774.66 L220.70,774.16 L222.15,777.12 L223.60,776.07 L225.70,772.06 L226.80,769.40 L227.90,765.90 L229.30,748.70 L230.00,731.50 L230.70,708.60 L231.40,688.60 L232.10,672.20 L233.10,675.70 L234.30,695.70 L235.70,707.20 L237.10,711.50 L237.90,731.50 L239.00,753.00 L240.00,768.70 L242.10,772.41 L243.55,772.71 L245.00,773.37 L246.14,771.84 L247.28,774.61 L248.42,774.93 L249.56,772.44 L250.70,772.26 L252.13,770.79 L253.57,771.10 L255.00,772.62 L256.15,771.97 L257.31,774.30 L258.46,771.46 L259.62,770.84 L260.77,774.70 L261.92,772.89 L263.08,771.25 L264.23,772.87 L265.38,770.67 L266.54,772.73 L267.69,774.59 L268.85,774.06 L270.00,772.97 L271.16,771.63 L272.32,772.22 L273.49,771.51 L274.65,774.19 L275.81,773.32 L276.98,774.50 L278.14,772.75 L279.30,772.94 L280.73,774.68 L282.17,775.17 L283.60,773.75 L285.70,768.60 L287.10,763.60 L288.60,746.40 L289.30,732.10 L290.00,706.40 L290.70,679.30 L291.70,667.10 L292.90,670.70 L294.30,683.60 L295.40,695.00 L296.40,705.00 L297.10,729.30 L297.90,752.10 L298.60,762.10 L300.70,768.63 L302.13,770.17 L303.57,770.77 L305.00,770.04 L306.43,770.77 L307.87,770.09 L309.30,769.57 L310.44,768.42 L311.58,769.17 L312.72,768.79 L313.86,770.31 L315.00,770.30 L316.21,769.19 L317.43,771.46 L318.64,771.89 L319.86,771.97 L321.07,769.70 L322.29,769.31 L323.50,770.04 L324.62,769.54 L325.74,769.68 L326.86,771.55 L327.98,772.82 L329.10,772.68 L330.21,771.27 L331.33,772.11 L332.45,772.83 L333.57,769.94 L334.69,772.47 L335.81,773.63 L336.93,773.20 L338.05,773.17 L339.17,772.14 L340.29,770.99 L341.40,773.67 L342.52,771.86 L343.64,773.93 L344.76,774.76 L345.88,772.45 L347.00,772.76 L348.12,774.99 L349.25,774.17 L350.37,771.96 L351.50,771.89 L352.62,772.11 L353.74,775.39 L354.87,775.09 L355.99,772.43 L357.11,775.40 L358.24,776.16 L359.36,774.92 L360.49,773.74 L361.61,774.69 L362.73,773.05 L363.86,772.67 L364.98,776.81 L366.10,775.57 L367.23,775.17 L368.35,776.99 L369.48,775.01 L370.60,776.29 L371.72,776.81 L372.85,774.27 L373.97,774.49 L375.10,774.70 L376.22,774.52 L377.34,776.02 L378.47,774.69 L379.59,775.40 L380.71,774.24 L381.84,777.55 L382.96,775.26 L384.09,775.74 L385.21,776.31 L386.33,777.70 L387.46,775.71 L388.58,777.84 L389.70,776.14 L390.83,776.31 L391.95,776.31 L393.08,774.24 L394.20,776.16 L395.32,774.99 L396.44,774.26 L397.56,777.63 L398.68,775.02 L399.80,776.31 L400.91,777.39 L402.03,776.70 L403.15,775.76 L404.27,776.59 L405.39,776.77 L406.51,777.76 L407.63,774.93 L408.75,776.86 L409.87,775.58 L410.99,775.72 L412.10,777.82 L413.22,776.74 L414.34,776.99 L415.46,777.84 L416.58,778.51 L417.70,776.66 L418.82,777.32 L419.94,776.91 L421.06,776.98 L422.18,777.78 L423.30,776.81 L424.41,777.20 L425.53,777.01 L426.65,779.00 L427.77,778.02 L428.89,778.81 L430.01,779.13 L431.13,776.30 L432.25,777.61 L433.37,779.26 L434.49,778.87 L435.60,775.96 L436.72,775.94 L437.84,777.33 L438.96,775.82 L440.08,776.57 L441.20,776.68 L442.32,778.46 L443.45,778.99 L444.57,779.51 L445.70,776.44 L446.82,778.85 L447.94,778.66 L449.07,776.53 L450.19,779.69 L451.31,780.09 L452.44,777.00 L453.56,780.12 L454.69,777.84 L455.81,778.27 L456.93,780.42 L458.06,779.81 L459.18,777.04 L460.30,778.22 L461.43,778.62 L462.55,777.93 L463.68,777.37 L464.80,778.26 L465.92,779.70 L467.04,776.82 L468.16,779.13 L469.28,778.72 L470.40,777.01 L471.51,778.39 L472.63,779.69 L473.75,779.28 L474.87,777.47 L475.99,781.40 L477.11,780.64 L478.23,781.48 L479.35,777.91 L480.47,778.65 L481.59,777.77 L482.70,780.94 L483.82,778.87 L484.94,778.34 L486.06,779.64 L487.18,781.76 L488.30,780.87 L489.42,779.15 L490.55,778.76 L491.67,782.06 L492.80,780.66 L493.92,781.28 L495.04,778.78 L496.17,778.71 L497.29,781.42 L498.41,780.39 L499.54,778.97 L500.66,782.67 L501.79,781.46 L502.91,782.23 L504.03,779.29 L505.16,782.60 L506.28,779.35 L507.40,782.76 L508.53,781.11 L509.65,780.69 L510.78,781.66 L511.90,782.52 L513.02,780.57 L514.14,780.03 L515.26,781.74 L516.38,780.57 L517.50,780.07 L518.61,780.34 L519.73,779.91 L520.85,780.59 L521.97,781.10 L523.09,781.11 L524.21,783.06 L525.33,781.13 L526.45,782.06 L527.57,780.75 L528.69,781.50 L529.80,780.16 L530.92,781.18 L532.04,780.24 L533.16,783.29 L534.28,782.57 L535.40,781.65 L536.57,782.01 L537.75,783.65 L538.92,779.88 L540.10,782.59 L541.27,780.68 L542.45,780.65 L543.62,781.79 L544.80,779.84 L545.98,780.03 L547.16,780.69 L548.34,781.83 L549.52,779.04 L550.70,781.00 L551.88,780.37 L553.06,779.97 L554.24,778.90 L555.42,778.56 L556.60,779.10" fill="none" stroke="#000" stroke-width="1.15" stroke-linejoin="round"/>
</svg>
</body></html>
